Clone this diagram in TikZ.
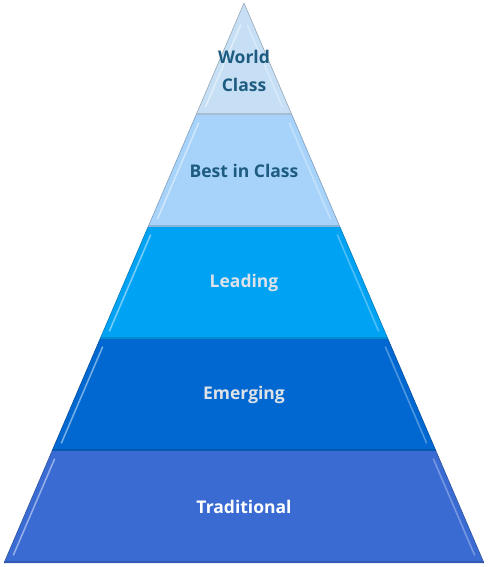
\documentclass[tikz,border=0pt]{standalone}
\usepackage{fontspec}
\setmainfont{Open Sans}
\usetikzlibrary{calc}
\definecolor{tierA}{HTML}{C6DFF5}
\definecolor{tierB}{HTML}{A7D3FA}
\definecolor{tierC}{HTML}{00A3F4}
\definecolor{tierD}{HTML}{0068D0}
\definecolor{tierE}{HTML}{3A6BD3}
\definecolor{darkteal}{HTML}{1D5C80}
\definecolor{paleink}{HTML}{DDE2E8}

\begin{document}
\begin{tikzpicture}[x=1pt,y=-1pt,
    shine/.style={white,opacity=0.45,line width=1.6pt,line cap=round},
    tiertext/.style={font=\bfseries\fontsize{17.5}{28}\selectfont,align=center}]
  \useasboundingbox (0,0) rectangle (488,567);
  % tiers, apex (244,3), base 4..484
  \foreach \t/\b/\s/\col in {3/115/22/tierA,115/227/8/tierB,227/339/8/tierC,
                             339/451/8/tierD,451/563/8/tierE}{
    \fill[\col] ({244-(\t-3)*3/7},\t) -- ({244+(\t-3)*3/7},\t)
      -- ({244+(\b-3)*3/7},\b) -- ({244-(\b-3)*3/7},\b) -- cycle;
    \draw[\col!70!black,line width=0.5pt] ({244-(\t-3)*3/7},\t) -- ({244-(\b-3)*3/7},\b)
      ({244+(\t-3)*3/7},\t) -- ({244+(\b-3)*3/7},\b);
    % bevel
    \draw[shine] ({244-(\t+\s-3)*3/7+6},\t+\s) -- ({244-(\b-8-3)*3/7+6},\b-8);
    \draw[shine,opacity=0.3] ({244+(\t+\s-3)*3/7-6},\t+\s) -- ({244+(\b-8-3)*3/7-6},\b-8);
    \draw[\col!75!black,line width=1.8pt,opacity=0.6]
      ({244-(\b-4)*3/7},\b-1) -- ({244+(\b-4)*3/7},\b-1);
  }
  \node[tiertext,text=darkteal] (world) at (244,71) {World\\Class};
  \node[tiertext,text=darkteal] (best) at (244,171) {Best in Class};
  \node[tiertext,text=paleink] (leading) at (244,283) {Leading};
  \node[tiertext,text=paleink] (emerging) at (244,395) {Emerging};
  \node[tiertext,text=white] (traditional) at (244,507) {Traditional};
\end{tikzpicture}
\end{document}
